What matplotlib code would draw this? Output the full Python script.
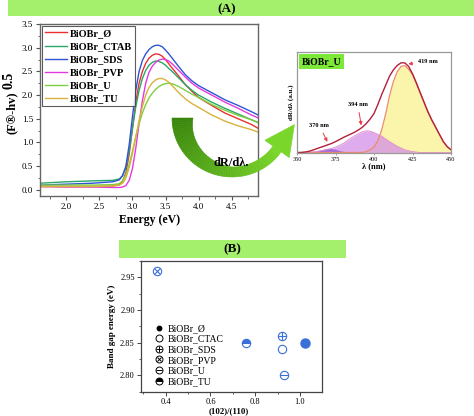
import numpy as np
import matplotlib
matplotlib.use('Agg')
import matplotlib.pyplot as plt
from matplotlib.patches import Polygon, Rectangle
from matplotlib.lines import Line2D
from matplotlib.legend_handler import HandlerTuple
from matplotlib.ticker import MultipleLocator

plt.rcParams['font.family'] = ['Liberation Serif', 'DejaVu Serif']

# ---------------- data: panel A (Kubelka-Munk curves) ----------------
energy = [1.6, 2.0, 2.4, 2.7, 2.8, 2.85, 2.9, 2.95, 3.0, 3.05, 3.1, 3.15, 3.2, 3.25,
          3.3, 3.35, 3.4, 3.45, 3.5, 3.55, 3.6, 3.7, 3.8, 3.9, 4.0, 4.2, 4.4, 4.6, 4.8, 4.9]
km_O = [0.07, 0.07, 0.07, 0.08, 0.11, 0.18, 0.36, 0.75, 1.3, 1.85, 2.25, 2.5, 2.67, 2.78,
        2.84, 2.87, 2.86, 2.82, 2.75, 2.66, 2.57, 2.4, 2.22, 2.08, 1.95, 1.78, 1.62, 1.5, 1.38, 1.3]
km_CTAB = [0.14, 0.17, 0.19, 0.2, 0.23, 0.3, 0.47, 0.82, 1.3, 1.75, 2.1, 2.35, 2.52, 2.63,
           2.69, 2.72, 2.71, 2.68, 2.63, 2.56, 2.5, 2.36, 2.22, 2.1, 2.0, 1.85, 1.72, 1.6, 1.48, 1.42]
km_SDS = [0.1, 0.12, 0.14, 0.17, 0.21, 0.3, 0.5, 0.95, 1.55, 2.1, 2.5, 2.73, 2.87, 2.96,
          3.02, 3.05, 3.05, 3.02, 2.95, 2.87, 2.78, 2.6, 2.43, 2.3, 2.2, 2.05, 1.9, 1.78, 1.65, 1.58]
km_PVP = [0.07, 0.06, 0.06, 0.05, 0.05, 0.06, 0.09, 0.2, 0.45, 0.88, 1.4, 1.88, 2.25, 2.48,
          2.61, 2.69, 2.74, 2.76, 2.75, 2.72, 2.66, 2.52, 2.38, 2.25, 2.15, 2.0, 1.85, 1.72, 1.58, 1.52]
km_U = [0.1, 0.1, 0.1, 0.11, 0.13, 0.19, 0.32, 0.54, 0.82, 1.12, 1.4, 1.62, 1.8, 1.94,
        2.04, 2.12, 2.18, 2.22, 2.24, 2.25, 2.24, 2.18, 2.1, 2.02, 1.95, 1.8, 1.68, 1.57, 1.48, 1.42]
km_TU = [0.07, 0.07, 0.07, 0.08, 0.1, 0.14, 0.25, 0.47, 0.77, 1.12, 1.46, 1.76, 2.0, 2.16,
         2.26, 2.32, 2.35, 2.35, 2.32, 2.27, 2.2, 2.05, 1.92, 1.82, 1.74, 1.58, 1.45, 1.35, 1.27, 1.22]
series_names = ['BiOBr_Ø', 'BiOBr_CTAB', 'BiOBr_SDS', 'BiOBr_PVP', 'BiOBr_U', 'BiOBr_TU']
series_vals = [km_O, km_CTAB, km_SDS, km_PVP, km_U, km_TU]
series_colors = ['#e8312f', '#2aa86a', '#2f55d4', '#e23ae0', '#7fcf3f', '#d8b23c']
a_xticks = [2.0, 2.5, 3.0, 3.5, 4.0, 4.5]
a_yticks = [0.0, 0.5, 1.0, 1.5, 2.0, 2.5, 3.0, 3.5]

# ---------------- data: inset (derivative deconvolution) ----------------
lam = [350, 352.5, 355, 357.5, 360, 362.5, 365, 367.5, 370, 372.5, 375, 377.5, 380, 382.5,
       385, 387.5, 390, 392.5, 395, 397.5, 400, 402.5, 405, 407.5, 410, 412.5, 415, 417.5,
       420, 422.5, 425, 427.5, 430, 432.5, 435, 437.5, 440, 442.5, 445, 447.5, 450]
env_U = [0.0, 0.0, 0.005, 0.012, 0.025, 0.04, 0.055, 0.07, 0.085, 0.1, 0.12, 0.142, 0.165, 0.185,
         0.205, 0.225, 0.25, 0.28, 0.32, 0.37, 0.43, 0.53, 0.64, 0.74, 0.84, 0.91, 0.96, 0.99,
         0.99, 0.95, 0.87, 0.77, 0.66, 0.555, 0.45, 0.36, 0.28, 0.2, 0.12, 0.065, 0.03]
peak419 = [0, 0, 0, 0, 0, 0, 0, 0, 0, 0, 0, 0, 0, 0,
           0, 0, 0, 0, 0.01, 0.03, 0.06, 0.13, 0.25, 0.42, 0.62, 0.78, 0.89, 0.95,
           0.96, 0.92, 0.86, 0.76, 0.66, 0.555, 0.45, 0.36, 0.28, 0.2, 0.12, 0.065, 0.03]
peak394 = [0, 0, 0.002, 0.004, 0.007, 0.012, 0.018, 0.025, 0.035, 0.045, 0.06, 0.08, 0.1, 0.13,
           0.16, 0.185, 0.21, 0.23, 0.24, 0.235, 0.22, 0.2, 0.18, 0.15, 0.12, 0.095, 0.07, 0.05,
           0.03, 0.02, 0.01, 0.005, 0, 0, 0, 0, 0, 0, 0, 0, 0]
peak370 = [0, 0, 0, 0.002, 0.006, 0.015, 0.027, 0.038, 0.045, 0.044, 0.035, 0.022, 0.012, 0.005,
           0, 0, 0, 0, 0, 0, 0, 0, 0, 0, 0, 0, 0, 0,
           0, 0, 0, 0, 0, 0, 0, 0, 0, 0, 0, 0, 0]
inset_xticks = [350, 375, 400, 425, 450]

# ---------------- data: panel B ----------------
b_names = ['BiOBr_Ø', 'BiOBr_CTAC', 'BiOBr_SDS', 'BiOBr_PVP', 'BiOBr_U', 'BiOBr_TU']
ratio = [1.02, 0.92, 0.92, 0.36, 0.93, 0.76]
band_gap = [2.85, 2.84, 2.86, 2.96, 2.80, 2.85]
b_xticks = [0.4, 0.6, 0.8, 1.0]
b_yticks = [2.80, 2.85, 2.90, 2.95]

# ---------------- figure ----------------
W, H = 474, 416
fig = plt.figure(figsize=(W / 100, H / 100), dpi=100)


def fr(x0, y0, x1, y1):
    return [x0 / W, 1 - y1 / H, (x1 - x0) / W, (y1 - y0) / H]


def fx(x):
    return x / W


def fy(y):
    return 1 - y / H


banner = '#a4ef6c'
fig.add_artist(Rectangle((fx(8), fy(16)), (W - 8) / W, 16 / H, transform=fig.transFigure,
                         facecolor=banner, edgecolor='none', zorder=0))
fig.text(fx(227), fy(9), '(A)', ha='center', va='center', fontsize=9.5, fontweight='bold')
fig.add_artist(Rectangle((fx(119), fy(258)), (346 - 119) / W, 18 / H, transform=fig.transFigure,
                         facecolor=banner, edgecolor='none', zorder=0))
fig.text(fx(232), fy(249), '(B)', ha='center', va='center', fontsize=9.5, fontweight='bold')

# ---------------- panel A ----------------
axA = fig.add_axes(fr(40, 24, 258, 196))
for name, vals, col in zip(series_names, series_vals, series_colors):
    axA.plot(energy, vals, color=col, lw=1.0, label=name)
axA.set_xlim(1.6, 4.9)
axA.set_ylim(-0.13, 3.5)
axA.set_xticks(a_xticks)
axA.set_xticklabels([f'{v:.1f}' for v in a_xticks])
axA.set_yticks(a_yticks)
axA.set_yticklabels([f'{v:.1f}' for v in a_yticks])
axA.xaxis.set_minor_locator(MultipleLocator(0.25))
axA.yaxis.set_minor_locator(MultipleLocator(0.25))
axA.tick_params(which='both', direction='out', labelsize=6.5, color='#555555', pad=2)
axA.tick_params(which='major', length=3, width=0.8)
axA.tick_params(which='minor', length=1.8, width=0.6)
for s in axA.spines.values():
    s.set_color('#666666')
    s.set_linewidth(1.0)
leg = axA.legend(loc='upper left', bbox_to_anchor=(0.008, 0.99), frameon=True, fancybox=False,
                 edgecolor='#333333', prop={'weight': 'bold', 'size': 7.5},
                 handlelength=2.1, handletextpad=0.3, labelspacing=0.36,
                 borderpad=0.3, borderaxespad=0.0)
leg.get_frame().set_linewidth(0.8)
fig.text(fx(150), fy(220), 'Energy (eV)', ha='center', va='center', fontsize=8.5, fontweight='bold')
fig.text(fx(12), fy(113), '(F®-hv)', ha='center', va='center', rotation=90,
         fontsize=9, fontweight='bold')
fig.text(fx(9), fy(80), '0.5', ha='center', va='center', rotation=90,
         fontsize=10, fontweight='bold')

# ---------------- curved green arrow ----------------
cx, cy, ea, eb = 232.0, 118.0, 60.0, 59.0
th = np.linspace(np.pi, np.radians(325), 60)
width = np.interp(th, [np.pi, np.radians(270), np.radians(325)], [21, 10, 10])
c0 = np.array([0x3a, 0x86, 0x0c]) / 255.0
c1 = np.array([0x7a, 0xd6, 0x2a]) / 255.0
outer = np.column_stack([cx + ea * np.cos(th), cy - eb * np.sin(th)])
inner = np.column_stack([cx + (ea - width) * np.cos(th), cy - (eb - width) * np.sin(th)])
n = len(th)
for i in range(n - 1):
    t = i / (n - 2)
    col = c0 * (1 - t) + c1 * t
    quad = np.array([outer[i], outer[i + 1], inner[i + 1], inner[i]])
    quad_f = np.column_stack([quad[:, 0] / W, 1 - quad[:, 1] / H])
    fig.add_artist(Polygon(quad_f, closed=True, transform=fig.transFigure,
                           facecolor=col, edgecolor=col, lw=0.4, zorder=3))
te = th[-1]
tang = np.array([-ea * np.sin(te), -eb * np.cos(te)])
tang = tang / np.linalg.norm(tang)
normal = np.array([tang[1], -tang[0]])
mid = (outer[-1] + inner[-1]) / 2
base1 = mid + normal * 15
base2 = mid - normal * 15
tip = mid + tang * 30
head = np.array([base1, tip, base2])
head_f = np.column_stack([head[:, 0] / W, 1 - head[:, 1] / H])
fig.add_artist(Polygon(head_f, closed=True, transform=fig.transFigure,
                       facecolor=c1, edgecolor=c1, lw=0.4, zorder=3))
fig.text(fx(231), fy(163), 'dR/dλ.', ha='center', va='center', fontsize=9,
         fontweight='bold', zorder=4)

# ---------------- inset ----------------
axI = fig.add_axes(fr(297, 52, 451, 152.5))
axI.fill_between(lam, 0, peak419, color='#fbf3a2', alpha=0.9, lw=0)
axI.plot(lam, peak419, color='#ee8a6a', lw=0.9)
axI.fill_between(lam, 0, peak394, color='#d48fe8', alpha=0.75, lw=0)
axI.plot(lam, peak394, color='#e08ac8', lw=0.6)
axI.fill_between(lam, 0, peak370, color='#9c5fe0', alpha=0.85, lw=0)
axI.plot(lam, env_U, color='#b2203c', lw=1.0)
axI.set_xlim(350, 450)
axI.set_ylim(0, 1.11)
axI.set_xticks(inset_xticks)
axI.set_xticklabels([str(v) for v in inset_xticks])
axI.set_yticks([])
axI.tick_params(labelsize=4.5, length=1.5, width=0.5, pad=1.5, color='#777777')
for s in axI.spines.values():
    s.set_color('#999999')
    s.set_linewidth(0.9)
axI.set_xlabel('λ (nm)', fontsize=6, fontweight='bold', labelpad=0.5)
axI.set_ylabel('dR/dλ (a.u.)', fontsize=5, fontweight='bold', labelpad=2)
axI.text(0.03, 0.95, 'BiOBr_U', transform=axI.transAxes, ha='left', va='top',
         fontsize=7, fontweight='bold',
         bbox=dict(boxstyle='square,pad=0.3', facecolor='#7ee83a', edgecolor='none'))
arrowp = dict(arrowstyle='-|>', color='#e8404a', lw=0.7, mutation_scale=5)
axI.annotate('419 nm', xy=(420.5, 0.975), xytext=(428.5, 1.0), fontsize=4.5,
             fontweight='bold', ha='left', va='center', arrowprops=arrowp)
axI.annotate('394 nm', xy=(392, 0.27), xytext=(389.5, 0.53), fontsize=4.5,
             fontweight='bold', ha='center', va='center', arrowprops=arrowp)
axI.annotate('370 nm', xy=(370.5, 0.09), xytext=(364.5, 0.3), fontsize=4.5,
             fontweight='bold', ha='center', va='center', arrowprops=arrowp)

# ---------------- panel B ----------------
axB = fig.add_axes(fr(141, 261, 322, 392))
blue = '#3a6fd8'
ms = 6
axB.plot(ratio[0], band_gap[0], 'o', ms=ms + 0.5, color=blue, mec=blue)
axB.plot(ratio[1], band_gap[1], 'o', ms=ms, mfc='white', mec=blue, mew=0.8)
axB.plot(ratio[2], band_gap[2], 'o', ms=ms, mfc='white', mec=blue, mew=0.8)
axB.plot(ratio[2], band_gap[2], '+', ms=ms, mec=blue, mew=0.8)
axB.plot(ratio[3], band_gap[3], 'o', ms=ms, mfc='white', mec=blue, mew=0.8)
axB.plot(ratio[3], band_gap[3], 'x', ms=ms * 0.7, mec=blue, mew=0.8)
axB.plot(ratio[4], band_gap[4], 'o', ms=ms, mfc='white', mec=blue, mew=0.8)
axB.plot(ratio[4], band_gap[4], '_', ms=ms, mec=blue, mew=0.8)
axB.plot(ratio[5], band_gap[5], 'o', ms=ms, fillstyle='top', mfc=blue,
         mfcalt='white', mec=blue, mew=0.8)
axB.set_xlim(0.29, 1.098)
axB.set_ylim(2.7745, 2.975)
axB.set_xticks(b_xticks)
axB.set_xticklabels([f'{v:.1f}' for v in b_xticks])
axB.set_yticks(b_yticks)
axB.set_yticklabels([f'{v:.2f}' for v in b_yticks])
axB.xaxis.set_minor_locator(MultipleLocator(0.1))
axB.yaxis.set_minor_locator(MultipleLocator(0.025))
axB.tick_params(which='both', direction='out', labelsize=6, color='#444444', pad=1.5)
axB.tick_params(which='major', length=3, width=0.7)
axB.tick_params(which='minor', length=1.6, width=0.6)
for s in axB.spines.values():
    s.set_color('#444444')
    s.set_linewidth(0.9)
fig.text(fx(229), fy(411.5), '(102)/(110)', ha='center', va='center', fontsize=6.3,
         fontweight='bold')
axB.set_ylabel('Band gap energy (eV)', fontsize=6.5, fontweight='bold', labelpad=3)

k = 'black'
h_O = Line2D([], [], ls='none', marker='o', ms=3.2, color=k)
h_C = Line2D([], [], ls='none', marker='o', ms=5, mfc='none', mec=k, mew=0.7)
h_S = (Line2D([], [], ls='none', marker='o', ms=5, mfc='none', mec=k, mew=0.7),
       Line2D([], [], ls='none', marker='+', ms=5, mec=k, mew=0.7))
h_P = (Line2D([], [], ls='none', marker='o', ms=5, mfc='none', mec=k, mew=0.7),
       Line2D([], [], ls='none', marker='x', ms=3.5, mec=k, mew=0.7))
h_U = (Line2D([], [], ls='none', marker='o', ms=5, mfc='none', mec=k, mew=0.7),
       Line2D([], [], ls='none', marker='_', ms=5, mec=k, mew=0.7))
h_T = Line2D([], [], ls='none', marker='o', ms=5, fillstyle='top', mfc=k,
             mfcalt='white', mec=k, mew=0.7)
axB.legend([h_O, h_C, h_S, h_P, h_U, h_T], b_names,
           handler_map={tuple: HandlerTuple(ndivide=1)},
           loc='lower left', bbox_to_anchor=(0.04, 0.0), frameon=False,
           fontsize=7, handlelength=1.0, handletextpad=0.4, labelspacing=0.17,
           borderaxespad=0.2)

fig.savefig('out.png', dpi=100)
